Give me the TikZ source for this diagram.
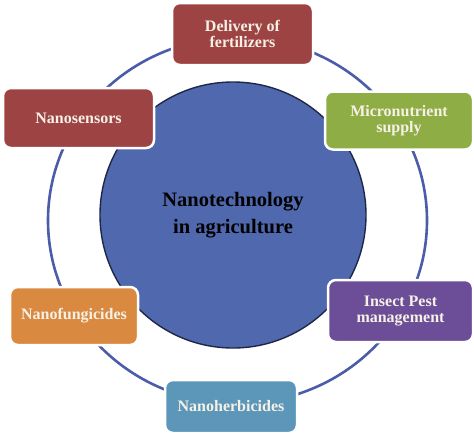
\documentclass[tikz,border=0pt]{standalone}
\usepackage{fontspec}
\setmainfont{Liberation Serif}
\definecolor{cred}{HTML}{9E4343}
\definecolor{cgreen}{HTML}{8FAD45}
\definecolor{corange}{HTML}{DA8A40}
\definecolor{cpurple}{HTML}{6C4E98}
\definecolor{cteal}{HTML}{5C96B9}
\definecolor{ccircle}{HTML}{5069AE}
\definecolor{cedge}{HTML}{1E2748}
\definecolor{cring}{HTML}{4B5CA8}
\definecolor{ctext}{HTML}{F6F1E6}
\begin{document}
\begin{tikzpicture}[x=1pt,y=-1pt,
  box/.style={rectangle, rounded corners=8pt, draw=white, line width=2.5pt,
    text=ctext, align=center, inner sep=0pt,
    font=\fontsize{16}{16.5}\selectfont\bfseries},
  ringline/.style={draw=cring, line width=2.6pt},
  hub/.style={circle, fill=ccircle, draw=cedge, line width=1.4pt, inner sep=0pt,
    minimum size=266pt, align=center,
    font=\fontsize{20.5}{27}\selectfont\bfseries}]
\useasboundingbox (0,0) rectangle (474,445);
\draw[ringline] (237.5,220.5) ellipse [x radius=189.5, y radius=183];
\node[hub] (hub) at (233,215) {Nanotechnology\\in agriculture};
\node[box, fill=cred, minimum width=141pt, minimum height=62pt] (deliv) at (242.5,34) {Delivery of\\fertilizers};
\node[box, fill=cred, minimum width=151pt, minimum height=60pt] (sens) at (78.5,118) {Nanosensors};
\node[box, fill=cgreen, minimum width=148pt, minimum height=58pt] (micro) at (399,120.5) {Micronutrient\\supply};
\node[box, fill=corange, minimum width=128pt, minimum height=58pt] (fung) at (74,316) {Nanofungicides};
\node[box, fill=cpurple, minimum width=145pt, minimum height=62pt] (pest) at (400.5,311) {Insect Pest\\management};
\node[box, fill=cteal, minimum width=132pt, minimum height=53pt] (herb) at (231,406.5) {Nanoherbicides};
\end{tikzpicture}
\end{document}
